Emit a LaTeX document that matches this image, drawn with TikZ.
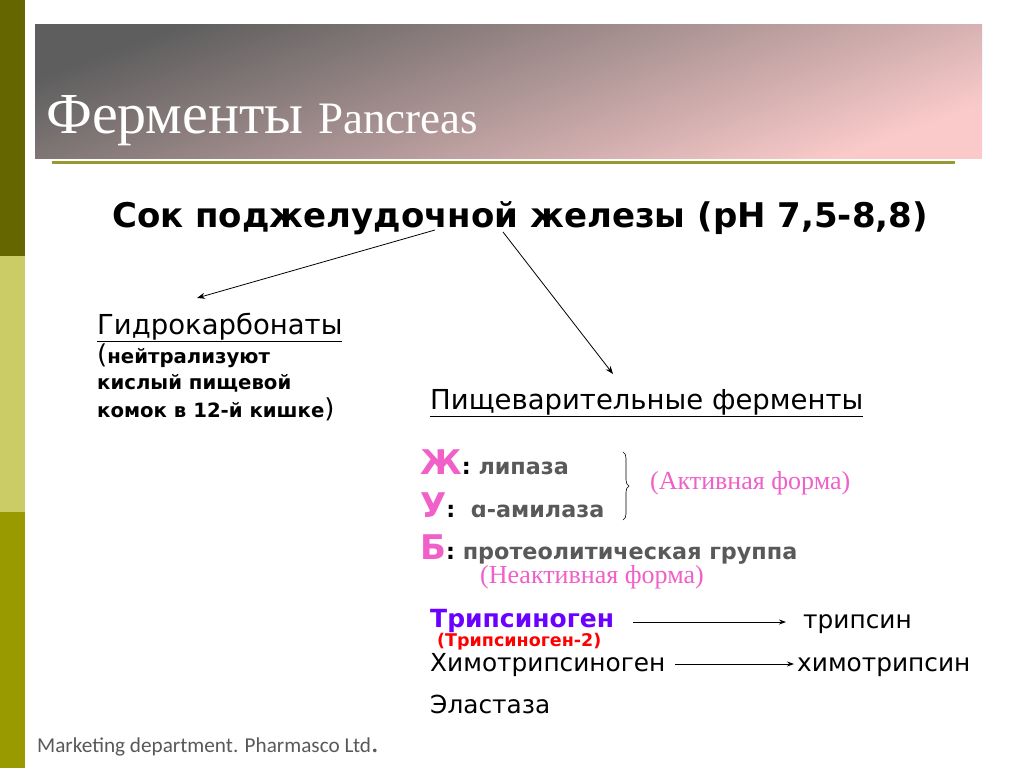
\documentclass[tikz,border=0pt]{standalone}
\usepackage{fontspec}
\setmainfont{DejaVu Sans}
\newfontfamily\titlefont{Liberation Serif}
\newfontfamily\footfont{Carlito}
\newfontfamily\serifpink{Liberation Serif}
\usetikzlibrary{arrows.meta,decorations.pathreplacing}
\definecolor{olivedark}{HTML}{666600}
\definecolor{olivelight}{HTML}{CCCC66}
\definecolor{olivemid}{HTML}{999900}
\definecolor{ruleol}{HTML}{999933}
\definecolor{pinkf}{HTML}{F060C8}
\definecolor{greyt}{HTML}{595959}
\definecolor{purplet}{HTML}{6A00FF}
\definecolor{bannerA}{HTML}{5E5E5E}
\definecolor{bannerB}{HTML}{FACACA}
\begin{document}
\begin{tikzpicture}[x=1pt,y=-1pt,
  txt/.style={inner sep=0pt,anchor=base west},
  arr/.style={-{Stealth[length=8pt,width=6pt]},line width=0.8pt},
  sarr/.style={-{Stealth[length=7pt,width=5pt]},line width=0.8pt}]
\useasboundingbox (0,0) rectangle (1024,768);
\fill[white] (0,0) rectangle (1024,768);
% left bar
\fill[olivedark] (0,0) rectangle (25,256);
\fill[olivelight] (0,256) rectangle (25,512);
\fill[olivemid] (0,512) rectangle (25,768);
% banner
\shade[left color=bannerA,right color=bannerB,shading angle=20] (35,25) rectangle (982,158);
\draw[ruleol,line width=3pt] (52,162) -- (955,162);
\node[txt,text=white,font=\titlefont\fontsize{58}{58}\selectfont] (title) at (46,133) {Ферменты {\fontsize{45}{45}\selectfont Pancreas}};
% main heading
\node[txt,font=\bfseries\fontsize{34}{36}\selectfont] (head) at (112,227) {Сок поджелудочной железы (pH 7,5-8,8)};
\coordinate (h1) at (435,230);
\coordinate (h2) at (503,232);
\node[txt,font=\fontsize{27.5}{30}\selectfont] (gk) at (97,334) {\underline{Гидрокарбонаты}};
\node[txt,font=\fontsize{27.5}{30}\selectfont] (pf) at (430,409) {\underline{Пищеварительные ферменты}};
\coordinate (gkend) at (197,298);
\coordinate (pfend) at (613,374);
\draw[arr] (h1) -- (gkend);
\draw[arr] (h2) -- (pfend);
% left notes
\node[txt,font=\fontsize{26}{28}\selectfont] (n1) at (97,363) {({\bfseries\fontsize{19.7}{22}\selectfont нейтрализуют}};
\node[txt,font=\bfseries\fontsize{19.7}{22}\selectfont] (n2) at (97,389) {кислый пищевой};
\node[txt,font=\bfseries\fontsize{19.7}{22}\selectfont] (n3) at (97,417) {комок в 12-й кишке{\mdseries\fontsize{26}{28}\selectfont)}};
% enzymes
\node[txt,font=\bfseries\fontsize{22.3}{24}\selectfont] (zh) at (420,474) {{\color{pinkf}\fontsize{34}{36}\selectfont Ж}: {\color{greyt}липаза}};
\node[txt,font=\bfseries\fontsize{22.3}{24}\selectfont] (u) at (420,517) {{\color{pinkf}\fontsize{34}{36}\selectfont У}:\ \ {\color{greyt}ɑ-амилаза}};
\node[txt,font=\bfseries\fontsize{22.3}{24}\selectfont] (b) at (420,559) {{\color{pinkf}\fontsize{34}{36}\selectfont Б}: {\color{greyt}протеолитическая группа}};
\draw[decorate,decoration={brace,amplitude=6pt},line width=0.6pt] (623,452) -- (623,520);
\node[txt,text=pinkf,font=\serifpink\fontsize{26}{28}\selectfont] (akt) at (650,489) {(Активная форма)};
\node[txt,text=pinkf,font=\serifpink\fontsize{26}{28}\selectfont] (neakt) at (480,583) {(Неактивная форма)};
% proteases
\node[txt,text=purplet,font=\bfseries\fontsize{25}{28}\selectfont] (tg) at (430,627) {Трипсиноген};
\node[txt,text=red,font=\bfseries\fontsize{17.5}{20}\selectfont] (tg2) at (437,646) {(Трипсиноген-2)};
\node[txt,font=\fontsize{24.8}{28}\selectfont] (tr) at (803,628) {трипсин};
\node[txt,font=\fontsize{24.8}{28}\selectfont] (htg) at (430,671) {Химотрипсиноген};
\node[txt,font=\fontsize{24.8}{28}\selectfont] (htr) at (797,671) {химотрипсин};
\node[txt,font=\fontsize{24.8}{28}\selectfont] (el) at (430,713) {Эластаза};
\coordinate (a1s) at (633,622);
\coordinate (a1e) at (786,622);
\coordinate (a2s) at (675,664);
\coordinate (a2e) at (794,664);
\draw[sarr] (a1s) -- (a1e);
\draw[sarr] (a2s) -- (a2e);
% footer
\node[txt,text=greyt,font=\footfont\fontsize{21.2}{22}\selectfont] (foot) at (37,752) {Marketing department. Pharmasco Ltd{\fontsize{30}{30}\selectfont .}};
\end{tikzpicture}
\end{document}
